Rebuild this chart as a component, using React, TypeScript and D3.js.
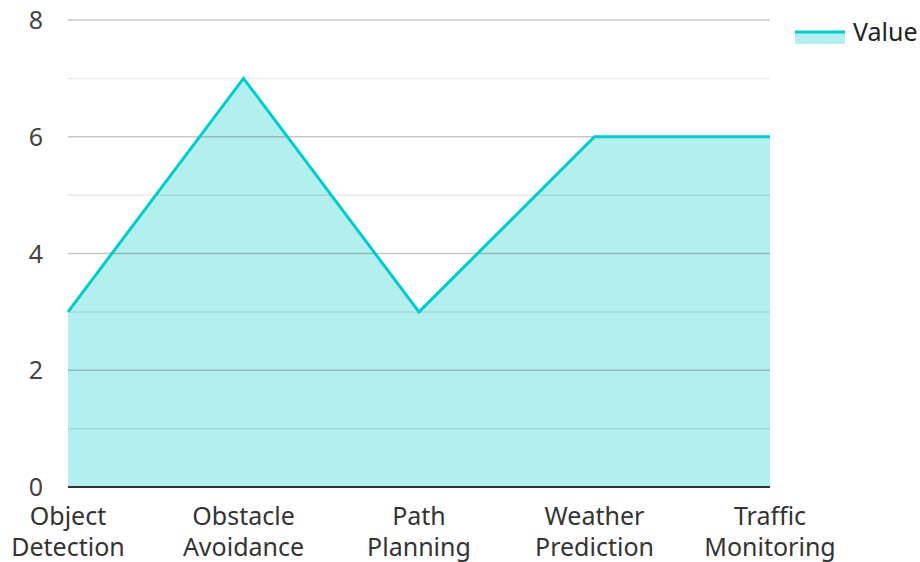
import React from "react";
import * as d3 from "d3";

const categories = [
  ["Object", "Detection"],
  ["Obstacle", "Avoidance"],
  ["Path", "Planning"],
  ["Weather", "Prediction"],
  ["Traffic", "Monitoring"],
];
const values = [3, 7, 3, 6, 6];
const yTicks = [0, 1, 2, 3, 4, 5, 6, 7, 8];
const seriesName = "Value";

const W = 920;
const H = 562;
const M = { left: 68, right: 150, top: 20, bottom: 75 };
const FONT = "'Noto Sans', 'Open Sans', sans-serif";

export default function App() {
  const x = d3
    .scalePoint<number>()
    .domain(values.map((_, i) => i))
    .range([M.left, W - M.right]);
  const y = d3.scaleLinear().domain([0, 8]).range([H - M.bottom, M.top]);

  const area = d3
    .area<number>()
    .x((_, i) => x(i)!)
    .y0(y(0))
    .y1((d) => y(d));
  const line = d3
    .line<number>()
    .x((_, i) => x(i)!)
    .y((d) => y(d));

  return (
    <svg
      width={W}
      height={H}
      style={{ position: "absolute", left: 0, top: 0 }}
      fontFamily={FONT}
    >
      <path d={area(values)!} fill="#b2efee" />
      {yTicks.map((t) => (
        <line
          key={t}
          x1={M.left}
          x2={W - M.right}
          y1={y(t)}
          y2={y(t)}
          stroke="#000"
          strokeOpacity={t % 2 === 0 ? 0.22 : 0.09}
          strokeWidth={1.5}
        />
      ))}
      <path d={line(values)!} fill="none" stroke="#00cccc" strokeWidth={3} />
      <line
        x1={M.left}
        x2={W - M.right}
        y1={y(0)}
        y2={y(0)}
        stroke="#333"
        strokeWidth={2}
      />
      {yTicks
        .filter((t) => t % 2 === 0)
        .map((t) => (
          <text
            key={t}
            x={43}
            y={y(t)}
            dy="0.36em"
            textAnchor="end"
            fontSize={25}
            fill="#444"
          >
            {t}
          </text>
        ))}
      {categories.map((c, i) => (
        <text
          key={i}
          x={x(i)!}
          y={y(0) + 38}
          textAnchor="middle"
          fontSize={25}
          fill="#333"
        >
          {c.map((s, j) => (
            <tspan key={j} x={x(i)!} dy={j === 0 ? 0 : 31}>
              {s}
            </tspan>
          ))}
        </text>
      ))}
      <g>
        <rect x={795} y={31} width={50} height={13} fill="#b2efee" />
        <line x1={795} x2={845} y1={32} y2={32} stroke="#00cccc" strokeWidth={3} />
        <text x={853} y={32} dy="0.36em" fontSize={25} fill="#222">
          {seriesName}
        </text>
      </g>
    </svg>
  );
}
